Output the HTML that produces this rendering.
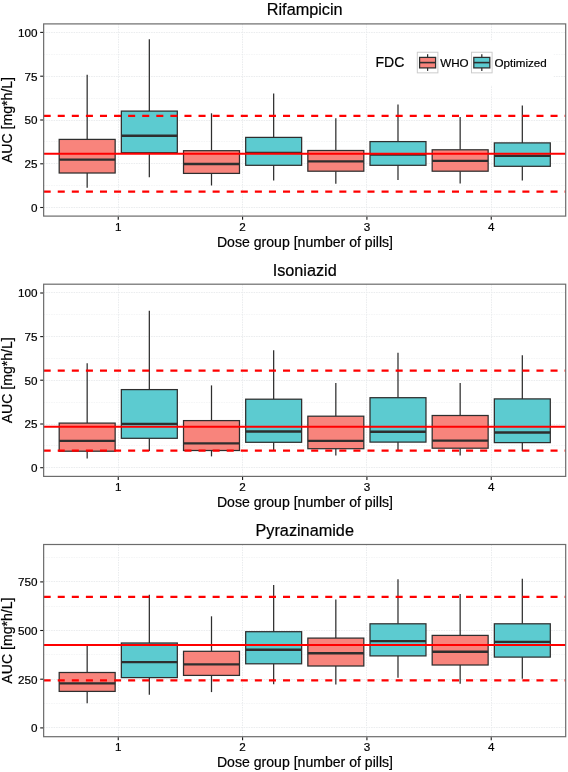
<!DOCTYPE html>
<html lang="en"><head><meta charset="utf-8"><title>AUC by dose group</title>
<style>html,body{margin:0;padding:0;background:#fff}svg{display:block}text{font-family:"Liberation Sans",Arial,Helvetica,sans-serif;fill:#000;stroke:#000;stroke-width:0.2px}</style></head><body>
<svg width="568" height="772" viewBox="0 0 568 772">
<rect width="568" height="772" fill="#fff"/>
<g>
<text x="304.7" y="15.35" font-size="16.25" text-anchor="middle">Rifampicin</text>
<line x1="43.65" x2="565.7" y1="54.5" y2="54.5" stroke="#f4f5f6" stroke-width="1" stroke-dasharray="1.5 1"/>
<line x1="43.65" x2="565.7" y1="98.5" y2="98.5" stroke="#f4f5f6" stroke-width="1" stroke-dasharray="1.5 1"/>
<line x1="43.65" x2="565.7" y1="141.5" y2="141.5" stroke="#f4f5f6" stroke-width="1" stroke-dasharray="1.5 1"/>
<line x1="43.65" x2="565.7" y1="185.5" y2="185.5" stroke="#f4f5f6" stroke-width="1" stroke-dasharray="1.5 1"/>
<line x1="43.65" x2="565.7" y1="32.5" y2="32.5" stroke="#eaecee" stroke-width="1" stroke-dasharray="1.5 1"/>
<line x1="43.65" x2="565.7" y1="76.5" y2="76.5" stroke="#eaecee" stroke-width="1" stroke-dasharray="1.5 1"/>
<line x1="43.65" x2="565.7" y1="120.5" y2="120.5" stroke="#eaecee" stroke-width="1" stroke-dasharray="1.5 1"/>
<line x1="43.65" x2="565.7" y1="163.5" y2="163.5" stroke="#eaecee" stroke-width="1" stroke-dasharray="1.5 1"/>
<line x1="43.65" x2="565.7" y1="207.5" y2="207.5" stroke="#eaecee" stroke-width="1" stroke-dasharray="1.5 1"/>
<line x1="118.5" x2="118.5" y1="23.9" y2="216.1" stroke="#eaecee" stroke-width="1" stroke-dasharray="1.5 1"/>
<line x1="242.5" x2="242.5" y1="23.9" y2="216.1" stroke="#eaecee" stroke-width="1" stroke-dasharray="1.5 1"/>
<line x1="366.5" x2="366.5" y1="23.9" y2="216.1" stroke="#eaecee" stroke-width="1" stroke-dasharray="1.5 1"/>
<line x1="491.5" x2="491.5" y1="23.9" y2="216.1" stroke="#eaecee" stroke-width="1" stroke-dasharray="1.5 1"/>
<line x1="87.17" x2="87.17" y1="74.7" y2="139.4" stroke="#2e2e2e" stroke-width="1.25"/>
<line x1="87.17" x2="87.17" y1="173.0" y2="187.8" stroke="#2e2e2e" stroke-width="1.25"/>
<rect x="59.19" y="139.4" width="55.96" height="33.60" fill="#F8847C" stroke="#2e2e2e" stroke-width="1.25"/>
<line x1="59.19" x2="115.15" y1="159.6" y2="159.6" stroke="#2e2e2e" stroke-width="2.35"/>
<line x1="149.33" x2="149.33" y1="39.2" y2="111.1" stroke="#2e2e2e" stroke-width="1.25"/>
<line x1="149.33" x2="149.33" y1="152.7" y2="177.2" stroke="#2e2e2e" stroke-width="1.25"/>
<rect x="121.35" y="111.1" width="55.96" height="41.60" fill="#5CCBD0" stroke="#2e2e2e" stroke-width="1.25"/>
<line x1="121.35" x2="177.31" y1="135.7" y2="135.7" stroke="#2e2e2e" stroke-width="2.35"/>
<line x1="211.50" x2="211.50" y1="113.3" y2="150.7" stroke="#2e2e2e" stroke-width="1.25"/>
<line x1="211.50" x2="211.50" y1="173.4" y2="185.5" stroke="#2e2e2e" stroke-width="1.25"/>
<rect x="183.52" y="150.7" width="55.96" height="22.70" fill="#F8847C" stroke="#2e2e2e" stroke-width="1.25"/>
<line x1="183.52" x2="239.48" y1="164.0" y2="164.0" stroke="#2e2e2e" stroke-width="2.35"/>
<line x1="273.66" x2="273.66" y1="93.6" y2="137.4" stroke="#2e2e2e" stroke-width="1.25"/>
<line x1="273.66" x2="273.66" y1="165.3" y2="180.6" stroke="#2e2e2e" stroke-width="1.25"/>
<rect x="245.68" y="137.4" width="55.96" height="27.90" fill="#5CCBD0" stroke="#2e2e2e" stroke-width="1.25"/>
<line x1="245.68" x2="301.64" y1="152.9" y2="152.9" stroke="#2e2e2e" stroke-width="2.35"/>
<line x1="335.83" x2="335.83" y1="118.2" y2="150.5" stroke="#2e2e2e" stroke-width="1.25"/>
<line x1="335.83" x2="335.83" y1="171.2" y2="183.8" stroke="#2e2e2e" stroke-width="1.25"/>
<rect x="307.85" y="150.5" width="55.96" height="20.70" fill="#F8847C" stroke="#2e2e2e" stroke-width="1.25"/>
<line x1="307.85" x2="363.81" y1="161.3" y2="161.3" stroke="#2e2e2e" stroke-width="2.35"/>
<line x1="397.99" x2="397.99" y1="104.6" y2="141.6" stroke="#2e2e2e" stroke-width="1.25"/>
<line x1="397.99" x2="397.99" y1="165.3" y2="180.1" stroke="#2e2e2e" stroke-width="1.25"/>
<rect x="370.01" y="141.6" width="55.96" height="23.70" fill="#5CCBD0" stroke="#2e2e2e" stroke-width="1.25"/>
<line x1="370.01" x2="425.97" y1="154.6" y2="154.6" stroke="#2e2e2e" stroke-width="2.35"/>
<line x1="460.16" x2="460.16" y1="117.0" y2="149.8" stroke="#2e2e2e" stroke-width="1.25"/>
<line x1="460.16" x2="460.16" y1="171.2" y2="183.5" stroke="#2e2e2e" stroke-width="1.25"/>
<rect x="432.18" y="149.8" width="55.96" height="21.40" fill="#F8847C" stroke="#2e2e2e" stroke-width="1.25"/>
<line x1="432.18" x2="488.14" y1="160.8" y2="160.8" stroke="#2e2e2e" stroke-width="2.35"/>
<line x1="522.32" x2="522.32" y1="105.6" y2="142.9" stroke="#2e2e2e" stroke-width="1.25"/>
<line x1="522.32" x2="522.32" y1="166.3" y2="180.6" stroke="#2e2e2e" stroke-width="1.25"/>
<rect x="494.34" y="142.9" width="55.96" height="23.40" fill="#5CCBD0" stroke="#2e2e2e" stroke-width="1.25"/>
<line x1="494.34" x2="550.30" y1="155.9" y2="155.9" stroke="#2e2e2e" stroke-width="2.35"/>
<line x1="43.65" x2="565.7" y1="153.7" y2="153.7" stroke="#FF0000" stroke-width="2.1"/>
<line x1="43.65" x2="565.7" y1="115.8" y2="115.8" stroke="#FF0000" stroke-width="2.25" stroke-dasharray="7.04 7.04"/>
<line x1="43.65" x2="565.7" y1="191.7" y2="191.7" stroke="#FF0000" stroke-width="2.25" stroke-dasharray="7.04 7.04"/>
<rect x="43.65" y="23.9" width="522.05" height="192.20" fill="none" stroke="#6c6c6c" stroke-width="1.2"/>
<line x1="40.2" x2="43.05" y1="32.4" y2="32.4" stroke="#1a1a1a" stroke-width="1.1"/>
<text x="37.6" y="36.7" font-size="11.7" text-anchor="end">100</text>
<line x1="40.2" x2="43.05" y1="76.2" y2="76.2" stroke="#1a1a1a" stroke-width="1.1"/>
<text x="37.6" y="80.5" font-size="11.7" text-anchor="end">75</text>
<line x1="40.2" x2="43.05" y1="120.0" y2="120.0" stroke="#1a1a1a" stroke-width="1.1"/>
<text x="37.6" y="124.3" font-size="11.7" text-anchor="end">50</text>
<line x1="40.2" x2="43.05" y1="163.8" y2="163.8" stroke="#1a1a1a" stroke-width="1.1"/>
<text x="37.6" y="168.1" font-size="11.7" text-anchor="end">25</text>
<line x1="40.2" x2="43.05" y1="207.5" y2="207.5" stroke="#1a1a1a" stroke-width="1.1"/>
<text x="37.6" y="211.8" font-size="11.7" text-anchor="end">0</text>
<line x1="118.25" x2="118.25" y1="216.7" y2="219.7" stroke="#1a1a1a" stroke-width="1.1"/>
<text x="118.25" y="230.8" font-size="11.7" text-anchor="middle">1</text>
<line x1="242.58" x2="242.58" y1="216.7" y2="219.7" stroke="#1a1a1a" stroke-width="1.1"/>
<text x="242.58" y="230.8" font-size="11.7" text-anchor="middle">2</text>
<line x1="366.91" x2="366.91" y1="216.7" y2="219.7" stroke="#1a1a1a" stroke-width="1.1"/>
<text x="366.91" y="230.8" font-size="11.7" text-anchor="middle">3</text>
<line x1="491.24" x2="491.24" y1="216.7" y2="219.7" stroke="#1a1a1a" stroke-width="1.1"/>
<text x="491.24" y="230.8" font-size="11.7" text-anchor="middle">4</text>
<text x="305.0" y="246.6" font-size="14.08" text-anchor="middle">Dose group [number of pills]</text>
<text transform="translate(11.9,120.0) rotate(-90)" font-size="14.08" text-anchor="middle">AUC [mg*h/L]</text>
</g>
<g>
<text x="304.7" y="275.65" font-size="16.25" text-anchor="middle">Isoniazid</text>
<line x1="43.65" x2="565.7" y1="314.5" y2="314.5" stroke="#f4f5f6" stroke-width="1" stroke-dasharray="1.5 1"/>
<line x1="43.65" x2="565.7" y1="358.5" y2="358.5" stroke="#f4f5f6" stroke-width="1" stroke-dasharray="1.5 1"/>
<line x1="43.65" x2="565.7" y1="402.5" y2="402.5" stroke="#f4f5f6" stroke-width="1" stroke-dasharray="1.5 1"/>
<line x1="43.65" x2="565.7" y1="445.5" y2="445.5" stroke="#f4f5f6" stroke-width="1" stroke-dasharray="1.5 1"/>
<line x1="43.65" x2="565.7" y1="292.5" y2="292.5" stroke="#eaecee" stroke-width="1" stroke-dasharray="1.5 1"/>
<line x1="43.65" x2="565.7" y1="336.5" y2="336.5" stroke="#eaecee" stroke-width="1" stroke-dasharray="1.5 1"/>
<line x1="43.65" x2="565.7" y1="380.5" y2="380.5" stroke="#eaecee" stroke-width="1" stroke-dasharray="1.5 1"/>
<line x1="43.65" x2="565.7" y1="424.5" y2="424.5" stroke="#eaecee" stroke-width="1" stroke-dasharray="1.5 1"/>
<line x1="43.65" x2="565.7" y1="467.5" y2="467.5" stroke="#eaecee" stroke-width="1" stroke-dasharray="1.5 1"/>
<line x1="118.5" x2="118.5" y1="284.2" y2="476.4" stroke="#eaecee" stroke-width="1" stroke-dasharray="1.5 1"/>
<line x1="242.5" x2="242.5" y1="284.2" y2="476.4" stroke="#eaecee" stroke-width="1" stroke-dasharray="1.5 1"/>
<line x1="366.5" x2="366.5" y1="284.2" y2="476.4" stroke="#eaecee" stroke-width="1" stroke-dasharray="1.5 1"/>
<line x1="491.5" x2="491.5" y1="284.2" y2="476.4" stroke="#eaecee" stroke-width="1" stroke-dasharray="1.5 1"/>
<line x1="87.17" x2="87.17" y1="363.2" y2="423.1" stroke="#2e2e2e" stroke-width="1.25"/>
<line x1="87.17" x2="87.17" y1="451.2" y2="458.6" stroke="#2e2e2e" stroke-width="1.25"/>
<rect x="59.19" y="423.1" width="55.96" height="28.10" fill="#F8847C" stroke="#2e2e2e" stroke-width="1.25"/>
<line x1="59.19" x2="115.15" y1="440.8" y2="440.8" stroke="#2e2e2e" stroke-width="2.35"/>
<line x1="149.33" x2="149.33" y1="310.8" y2="389.6" stroke="#2e2e2e" stroke-width="1.25"/>
<line x1="149.33" x2="149.33" y1="438.3" y2="450.9" stroke="#2e2e2e" stroke-width="1.25"/>
<rect x="121.35" y="389.6" width="55.96" height="48.70" fill="#5CCBD0" stroke="#2e2e2e" stroke-width="1.25"/>
<line x1="121.35" x2="177.31" y1="423.8" y2="423.8" stroke="#2e2e2e" stroke-width="2.35"/>
<line x1="211.50" x2="211.50" y1="385.4" y2="420.6" stroke="#2e2e2e" stroke-width="1.25"/>
<line x1="211.50" x2="211.50" y1="450.5" y2="456.4" stroke="#2e2e2e" stroke-width="1.25"/>
<rect x="183.52" y="420.6" width="55.96" height="29.90" fill="#F8847C" stroke="#2e2e2e" stroke-width="1.25"/>
<line x1="183.52" x2="239.48" y1="443.3" y2="443.3" stroke="#2e2e2e" stroke-width="2.35"/>
<line x1="273.66" x2="273.66" y1="350.2" y2="399.2" stroke="#2e2e2e" stroke-width="1.25"/>
<line x1="273.66" x2="273.66" y1="442.3" y2="450.7" stroke="#2e2e2e" stroke-width="1.25"/>
<rect x="245.68" y="399.2" width="55.96" height="43.10" fill="#5CCBD0" stroke="#2e2e2e" stroke-width="1.25"/>
<line x1="245.68" x2="301.64" y1="431.5" y2="431.5" stroke="#2e2e2e" stroke-width="2.35"/>
<line x1="335.83" x2="335.83" y1="382.9" y2="416.2" stroke="#2e2e2e" stroke-width="1.25"/>
<line x1="335.83" x2="335.83" y1="448.7" y2="455.4" stroke="#2e2e2e" stroke-width="1.25"/>
<rect x="307.85" y="416.2" width="55.96" height="32.50" fill="#F8847C" stroke="#2e2e2e" stroke-width="1.25"/>
<line x1="307.85" x2="363.81" y1="440.8" y2="440.8" stroke="#2e2e2e" stroke-width="2.35"/>
<line x1="397.99" x2="397.99" y1="352.8" y2="397.7" stroke="#2e2e2e" stroke-width="1.25"/>
<line x1="397.99" x2="397.99" y1="442.1" y2="450.5" stroke="#2e2e2e" stroke-width="1.25"/>
<rect x="370.01" y="397.7" width="55.96" height="44.40" fill="#5CCBD0" stroke="#2e2e2e" stroke-width="1.25"/>
<line x1="370.01" x2="425.97" y1="431.7" y2="431.7" stroke="#2e2e2e" stroke-width="2.35"/>
<line x1="460.16" x2="460.16" y1="382.9" y2="415.5" stroke="#2e2e2e" stroke-width="1.25"/>
<line x1="460.16" x2="460.16" y1="448.2" y2="455.6" stroke="#2e2e2e" stroke-width="1.25"/>
<rect x="432.18" y="415.5" width="55.96" height="32.70" fill="#F8847C" stroke="#2e2e2e" stroke-width="1.25"/>
<line x1="432.18" x2="488.14" y1="440.6" y2="440.6" stroke="#2e2e2e" stroke-width="2.35"/>
<line x1="522.32" x2="522.32" y1="355.3" y2="398.9" stroke="#2e2e2e" stroke-width="1.25"/>
<line x1="522.32" x2="522.32" y1="442.6" y2="451.2" stroke="#2e2e2e" stroke-width="1.25"/>
<rect x="494.34" y="398.9" width="55.96" height="43.70" fill="#5CCBD0" stroke="#2e2e2e" stroke-width="1.25"/>
<line x1="494.34" x2="550.30" y1="432.5" y2="432.5" stroke="#2e2e2e" stroke-width="2.35"/>
<line x1="43.65" x2="565.7" y1="426.8" y2="426.8" stroke="#FF0000" stroke-width="2.1"/>
<line x1="43.65" x2="565.7" y1="370.5" y2="370.5" stroke="#FF0000" stroke-width="2.25" stroke-dasharray="7.04 7.04"/>
<line x1="43.65" x2="565.7" y1="450.7" y2="450.7" stroke="#FF0000" stroke-width="2.25" stroke-dasharray="7.04 7.04"/>
<rect x="43.65" y="284.2" width="522.05" height="192.20" fill="none" stroke="#6c6c6c" stroke-width="1.2"/>
<line x1="40.2" x2="43.05" y1="293.0" y2="293.0" stroke="#1a1a1a" stroke-width="1.1"/>
<text x="37.6" y="297.3" font-size="11.7" text-anchor="end">100</text>
<line x1="40.2" x2="43.05" y1="336.6" y2="336.6" stroke="#1a1a1a" stroke-width="1.1"/>
<text x="37.6" y="340.9" font-size="11.7" text-anchor="end">75</text>
<line x1="40.2" x2="43.05" y1="380.2" y2="380.2" stroke="#1a1a1a" stroke-width="1.1"/>
<text x="37.6" y="384.5" font-size="11.7" text-anchor="end">50</text>
<line x1="40.2" x2="43.05" y1="424.0" y2="424.0" stroke="#1a1a1a" stroke-width="1.1"/>
<text x="37.6" y="428.3" font-size="11.7" text-anchor="end">25</text>
<line x1="40.2" x2="43.05" y1="467.7" y2="467.7" stroke="#1a1a1a" stroke-width="1.1"/>
<text x="37.6" y="472.0" font-size="11.7" text-anchor="end">0</text>
<line x1="118.25" x2="118.25" y1="477.0" y2="480.0" stroke="#1a1a1a" stroke-width="1.1"/>
<text x="118.25" y="491.1" font-size="11.7" text-anchor="middle">1</text>
<line x1="242.58" x2="242.58" y1="477.0" y2="480.0" stroke="#1a1a1a" stroke-width="1.1"/>
<text x="242.58" y="491.1" font-size="11.7" text-anchor="middle">2</text>
<line x1="366.91" x2="366.91" y1="477.0" y2="480.0" stroke="#1a1a1a" stroke-width="1.1"/>
<text x="366.91" y="491.1" font-size="11.7" text-anchor="middle">3</text>
<line x1="491.24" x2="491.24" y1="477.0" y2="480.0" stroke="#1a1a1a" stroke-width="1.1"/>
<text x="491.24" y="491.1" font-size="11.7" text-anchor="middle">4</text>
<text x="305.0" y="506.9" font-size="14.08" text-anchor="middle">Dose group [number of pills]</text>
<text transform="translate(11.9,380.3) rotate(-90)" font-size="14.08" text-anchor="middle">AUC [mg*h/L]</text>
</g>
<g>
<text x="304.7" y="535.95" font-size="16.25" text-anchor="middle">Pyrazinamide</text>
<line x1="43.65" x2="565.7" y1="557.5" y2="557.5" stroke="#f4f5f6" stroke-width="1" stroke-dasharray="1.5 1"/>
<line x1="43.65" x2="565.7" y1="606.5" y2="606.5" stroke="#f4f5f6" stroke-width="1" stroke-dasharray="1.5 1"/>
<line x1="43.65" x2="565.7" y1="654.5" y2="654.5" stroke="#f4f5f6" stroke-width="1" stroke-dasharray="1.5 1"/>
<line x1="43.65" x2="565.7" y1="703.5" y2="703.5" stroke="#f4f5f6" stroke-width="1" stroke-dasharray="1.5 1"/>
<line x1="43.65" x2="565.7" y1="581.5" y2="581.5" stroke="#eaecee" stroke-width="1" stroke-dasharray="1.5 1"/>
<line x1="43.65" x2="565.7" y1="630.5" y2="630.5" stroke="#eaecee" stroke-width="1" stroke-dasharray="1.5 1"/>
<line x1="43.65" x2="565.7" y1="679.5" y2="679.5" stroke="#eaecee" stroke-width="1" stroke-dasharray="1.5 1"/>
<line x1="43.65" x2="565.7" y1="727.5" y2="727.5" stroke="#eaecee" stroke-width="1" stroke-dasharray="1.5 1"/>
<line x1="118.5" x2="118.5" y1="544.5" y2="736.7" stroke="#eaecee" stroke-width="1" stroke-dasharray="1.5 1"/>
<line x1="242.5" x2="242.5" y1="544.5" y2="736.7" stroke="#eaecee" stroke-width="1" stroke-dasharray="1.5 1"/>
<line x1="366.5" x2="366.5" y1="544.5" y2="736.7" stroke="#eaecee" stroke-width="1" stroke-dasharray="1.5 1"/>
<line x1="491.5" x2="491.5" y1="544.5" y2="736.7" stroke="#eaecee" stroke-width="1" stroke-dasharray="1.5 1"/>
<line x1="87.17" x2="87.17" y1="644.2" y2="672.5" stroke="#2e2e2e" stroke-width="1.25"/>
<line x1="87.17" x2="87.17" y1="691.4" y2="703.3" stroke="#2e2e2e" stroke-width="1.25"/>
<rect x="59.19" y="672.5" width="55.96" height="18.90" fill="#F8847C" stroke="#2e2e2e" stroke-width="1.25"/>
<line x1="59.19" x2="115.15" y1="683.3" y2="683.3" stroke="#2e2e2e" stroke-width="2.35"/>
<line x1="149.33" x2="149.33" y1="594.7" y2="643.0" stroke="#2e2e2e" stroke-width="1.25"/>
<line x1="149.33" x2="149.33" y1="677.6" y2="694.7" stroke="#2e2e2e" stroke-width="1.25"/>
<rect x="121.35" y="643.0" width="55.96" height="34.60" fill="#5CCBD0" stroke="#2e2e2e" stroke-width="1.25"/>
<line x1="121.35" x2="177.31" y1="662.1" y2="662.1" stroke="#2e2e2e" stroke-width="2.35"/>
<line x1="211.50" x2="211.50" y1="616.3" y2="651.3" stroke="#2e2e2e" stroke-width="1.25"/>
<line x1="211.50" x2="211.50" y1="675.4" y2="692.1" stroke="#2e2e2e" stroke-width="1.25"/>
<rect x="183.52" y="651.3" width="55.96" height="24.10" fill="#F8847C" stroke="#2e2e2e" stroke-width="1.25"/>
<line x1="183.52" x2="239.48" y1="664.4" y2="664.4" stroke="#2e2e2e" stroke-width="2.35"/>
<line x1="273.66" x2="273.66" y1="585.1" y2="631.7" stroke="#2e2e2e" stroke-width="1.25"/>
<line x1="273.66" x2="273.66" y1="663.8" y2="684.2" stroke="#2e2e2e" stroke-width="1.25"/>
<rect x="245.68" y="631.7" width="55.96" height="32.10" fill="#5CCBD0" stroke="#2e2e2e" stroke-width="1.25"/>
<line x1="245.68" x2="301.64" y1="649.7" y2="649.7" stroke="#2e2e2e" stroke-width="2.35"/>
<line x1="335.83" x2="335.83" y1="599.4" y2="638.1" stroke="#2e2e2e" stroke-width="1.25"/>
<line x1="335.83" x2="335.83" y1="666.0" y2="684.5" stroke="#2e2e2e" stroke-width="1.25"/>
<rect x="307.85" y="638.1" width="55.96" height="27.90" fill="#F8847C" stroke="#2e2e2e" stroke-width="1.25"/>
<line x1="307.85" x2="363.81" y1="653.2" y2="653.2" stroke="#2e2e2e" stroke-width="2.35"/>
<line x1="397.99" x2="397.99" y1="579.2" y2="623.8" stroke="#2e2e2e" stroke-width="1.25"/>
<line x1="397.99" x2="397.99" y1="655.9" y2="677.8" stroke="#2e2e2e" stroke-width="1.25"/>
<rect x="370.01" y="623.8" width="55.96" height="32.10" fill="#5CCBD0" stroke="#2e2e2e" stroke-width="1.25"/>
<line x1="370.01" x2="425.97" y1="641.1" y2="641.1" stroke="#2e2e2e" stroke-width="2.35"/>
<line x1="460.16" x2="460.16" y1="594.0" y2="635.4" stroke="#2e2e2e" stroke-width="1.25"/>
<line x1="460.16" x2="460.16" y1="665.0" y2="683.7" stroke="#2e2e2e" stroke-width="1.25"/>
<rect x="432.18" y="635.4" width="55.96" height="29.60" fill="#F8847C" stroke="#2e2e2e" stroke-width="1.25"/>
<line x1="432.18" x2="488.14" y1="651.7" y2="651.7" stroke="#2e2e2e" stroke-width="2.35"/>
<line x1="522.32" x2="522.32" y1="578.7" y2="623.8" stroke="#2e2e2e" stroke-width="1.25"/>
<line x1="522.32" x2="522.32" y1="657.1" y2="678.8" stroke="#2e2e2e" stroke-width="1.25"/>
<rect x="494.34" y="623.8" width="55.96" height="33.30" fill="#5CCBD0" stroke="#2e2e2e" stroke-width="1.25"/>
<line x1="494.34" x2="550.30" y1="641.8" y2="641.8" stroke="#2e2e2e" stroke-width="2.35"/>
<line x1="43.65" x2="565.7" y1="645.0" y2="645.0" stroke="#FF0000" stroke-width="2.1"/>
<line x1="43.65" x2="565.7" y1="596.8" y2="596.8" stroke="#FF0000" stroke-width="2.25" stroke-dasharray="7.04 7.04"/>
<line x1="43.65" x2="565.7" y1="680.4" y2="680.4" stroke="#FF0000" stroke-width="2.25" stroke-dasharray="7.04 7.04"/>
<rect x="43.65" y="544.5" width="522.05" height="192.20" fill="none" stroke="#6c6c6c" stroke-width="1.2"/>
<line x1="40.2" x2="43.05" y1="581.9" y2="581.9" stroke="#1a1a1a" stroke-width="1.1"/>
<text x="37.6" y="586.2" font-size="11.7" text-anchor="end">750</text>
<line x1="40.2" x2="43.05" y1="630.5" y2="630.5" stroke="#1a1a1a" stroke-width="1.1"/>
<text x="37.6" y="634.8" font-size="11.7" text-anchor="end">500</text>
<line x1="40.2" x2="43.05" y1="679.2" y2="679.2" stroke="#1a1a1a" stroke-width="1.1"/>
<text x="37.6" y="683.5" font-size="11.7" text-anchor="end">250</text>
<line x1="40.2" x2="43.05" y1="727.9" y2="727.9" stroke="#1a1a1a" stroke-width="1.1"/>
<text x="37.6" y="732.2" font-size="11.7" text-anchor="end">0</text>
<line x1="118.25" x2="118.25" y1="737.3000000000001" y2="740.3000000000001" stroke="#1a1a1a" stroke-width="1.1"/>
<text x="118.25" y="751.4" font-size="11.7" text-anchor="middle">1</text>
<line x1="242.58" x2="242.58" y1="737.3000000000001" y2="740.3000000000001" stroke="#1a1a1a" stroke-width="1.1"/>
<text x="242.58" y="751.4" font-size="11.7" text-anchor="middle">2</text>
<line x1="366.91" x2="366.91" y1="737.3000000000001" y2="740.3000000000001" stroke="#1a1a1a" stroke-width="1.1"/>
<text x="366.91" y="751.4" font-size="11.7" text-anchor="middle">3</text>
<line x1="491.24" x2="491.24" y1="737.3000000000001" y2="740.3000000000001" stroke="#1a1a1a" stroke-width="1.1"/>
<text x="491.24" y="751.4" font-size="11.7" text-anchor="middle">4</text>
<text x="305.0" y="767.2" font-size="14.08" text-anchor="middle">Dose group [number of pills]</text>
<text transform="translate(11.9,640.6) rotate(-90)" font-size="14.08" text-anchor="middle">AUC [mg*h/L]</text>
</g>
<g>
<rect x="367.3" y="40.5" width="186.1" height="45" fill="#fff"/>
<text x="375.5" y="67.4" font-size="14">FDC</text>
<rect x="417.3" y="52.25" width="20.6" height="20.6" fill="#fff" stroke="#cccccc" stroke-width="1"/>
<line x1="427.6" x2="427.6" y1="54.2" y2="70.9" stroke="#2e2e2e" stroke-width="1.25"/>
<rect x="419.6" y="57.4" width="16" height="10.5" fill="#F8847C" stroke="#2e2e2e" stroke-width="1.25"/>
<line x1="419.6" x2="435.6" y1="62.6" y2="62.6" stroke="#2e2e2e" stroke-width="1.6"/>
<text x="440.2" y="66.75" font-size="11.65">WHO</text>
<rect x="471.5" y="52.25" width="20.6" height="20.6" fill="#fff" stroke="#cccccc" stroke-width="1"/>
<line x1="481.8" x2="481.8" y1="54.2" y2="70.9" stroke="#2e2e2e" stroke-width="1.25"/>
<rect x="473.8" y="57.4" width="16" height="10.5" fill="#5CCBD0" stroke="#2e2e2e" stroke-width="1.25"/>
<line x1="473.8" x2="489.8" y1="62.6" y2="62.6" stroke="#2e2e2e" stroke-width="1.6"/>
<text x="494.4" y="66.75" font-size="11.65">Optimized</text>
</g>
</svg></body></html>
